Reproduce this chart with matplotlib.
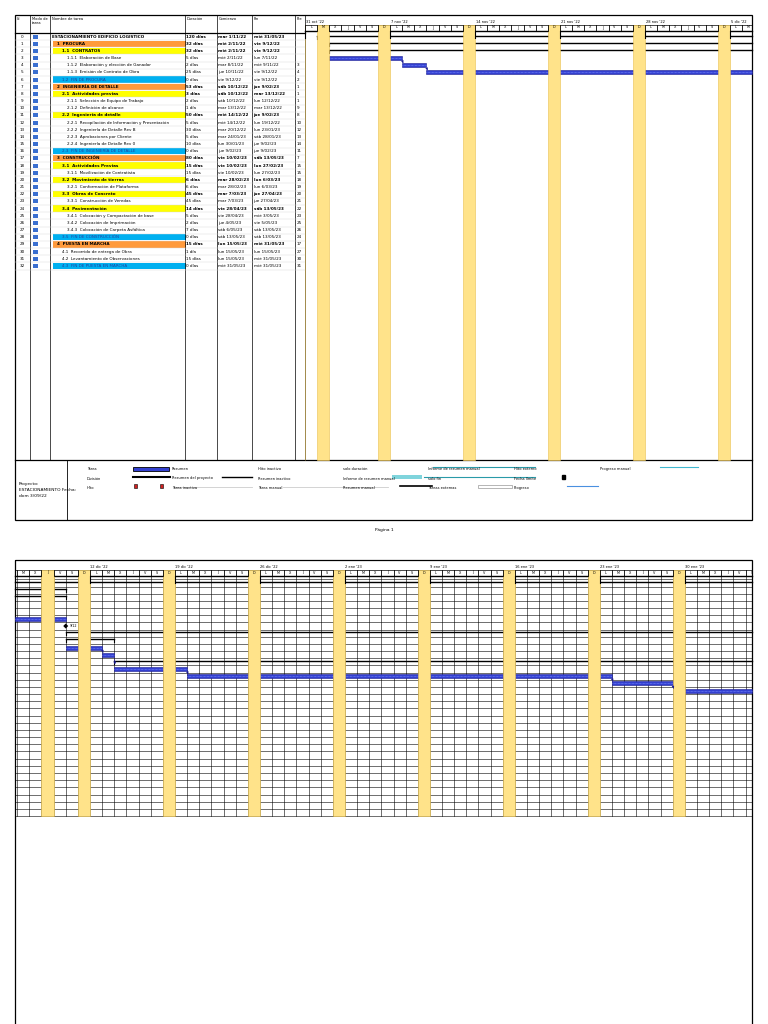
import datetime as dt

import matplotlib
matplotlib.use("Agg")
import matplotlib.pyplot as plt
from matplotlib.patches import Rectangle, Polygon

# ---- data -----------------------------------------------------------------
names = ["ESTACIONAMIENTO EDIFICIO LOGISTICO", "1  PROCURA", "1.1  CONTRATOS",
         "1.1.1  Elaboración de Base", "1.1.2  Elaboración y elección de Ganador",
         "1.1.3  Emisión de Contrato de Obra", "1.2  FIN DE PROCURA",
         "2  INGENIERÍA DE DETALLE", "2.1  Actividades previas",
         "2.1.1  Selección de Equipo de Trabajo", "2.1.2  Definición de alcance",
         "2.2  Ingeniería de detalle", "2.2.1  Recopilación de Información y Presentación",
         "2.2.2  Ingeniería de Detalle Rev B", "2.2.3  Aprobaciones por Cliente",
         "2.2.4  Ingeniería de Detalle Rev 0", "2.3  FIN DE INGENIERÍA DE DETALLE",
         "3  CONSTRUCCIÓN", "3.1  Actividades Previas", "3.1.1  Movilización de Contratista",
         "3.2  Movimiento de tierras", "3.2.1  Conformación de Plataforma",
         "3.3  Obras de Concreto", "3.3.1  Construcción de Veredas", "3.4  Pavimentación",
         "3.4.1  Colocación y Compactación de base", "3.4.2  Colocación de Imprimación",
         "3.4.3  Colocación de Carpeta Asfáltica", "3.5  FIN DE CONSTRUCCIÓN",
         "4  PUESTA EN MARCHA", "4.1  Recorrido de entrega de Obra",
         "4.2  Levantamiento de Observaciones", "4.3  FIN DE PUESTA EN MARCHA"]
kinds = ["proj", "s1", "s2", "t", "t", "t", "m", "s1", "s2", "t", "t", "s2", "t", "t", "t", "t",
         "m", "s1", "s2", "t", "s2", "t", "s2", "t", "s2", "t", "t", "t", "m", "s1", "t", "t", "m"]
durations = ["120 días", "32 días", "32 días", "5 días", "2 días", "25 días", "0 días",
             "53 días", "3 días", "2 días", "1 día", "50 días", "5 días", "30 días", "5 días",
             "10 días", "0 días", "80 días", "15 días", "15 días", "6 días", "6 días",
             "45 días", "45 días", "14 días", "5 días", "2 días", "7 días", "0 días",
             "15 días", "1 día", "15 días", "0 días"]
starts = ["mar 1/11/22", "mié 2/11/22", "mié 2/11/22", "mié 2/11/22", "mar 8/11/22",
          "jue 10/11/22", "vie 9/12/22", "sáb 10/12/22", "sáb 10/12/22", "sáb 10/12/22",
          "mar 13/12/22", "mié 14/12/22", "mié 14/12/22", "mar 20/12/22", "mar 24/01/23",
          "lun 30/01/23", "jue 9/02/23", "vie 10/02/23", "vie 10/02/23", "vie 10/02/23",
          "mar 28/02/23", "mar 28/02/23", "mar 7/03/23", "mar 7/03/23", "vie 28/04/23",
          "vie 28/04/23", "jue 4/05/23", "sáb 6/05/23", "sáb 13/05/23", "lun 15/05/23",
          "lun 15/05/23", "lun 15/05/23", "mié 31/05/23"]
ends = ["mié 31/05/23", "vie 9/12/22", "vie 9/12/22", "lun 7/11/22", "mié 9/11/22",
        "vie 9/12/22", "vie 9/12/22", "jue 9/02/23", "mar 13/12/22", "lun 12/12/22",
        "mar 13/12/22", "jue 9/02/23", "lun 19/12/22", "lun 23/01/23", "sáb 28/01/23",
        "jue 9/02/23", "jue 9/02/23", "sáb 13/05/23", "lun 27/02/23", "lun 27/02/23",
        "lun 6/03/23", "lun 6/03/23", "jue 27/04/23", "jue 27/04/23", "sáb 13/05/23",
        "mié 3/05/23", "vie 5/05/23", "sáb 13/05/23", "sáb 13/05/23", "mié 31/05/23",
        "lun 15/05/23", "mié 31/05/23", "mié 31/05/23"]
preds = ["", "", "", "", "3", "4", "2", "1", "1", "1", "9", "8", "10", "12", "13", "14",
         "11", "7", "15", "15", "18", "19", "20", "21", "22", "23", "25", "26", "24", "17",
         "27", "30", "31"]
holidays = ["1/11/22", "8/12/22"]
weeks_p1 = ["31 oct '22", "7 nov '22", "14 nov '22", "21 nov '22", "28 nov '22", "5 dic '22"]
weeks_p2 = ["12 dic '22", "19 dic '22", "26 dic '22", "2 ene '23", "9 ene '23", "16 ene '23",
            "23 ene '23", "30 ene '23"]
day_letters = ["L", "M", "X", "J", "V", "S", "D"]


def pdate(s):
    d, m, y = s.split()[-1].split("/")
    return dt.date(2000 + int(y), int(m), int(d))


hol = [pdate(h) for h in holidays]

# ---- canvas ---------------------------------------------------------------
fig = plt.figure(figsize=(7.68, 10.24), dpi=100)
ax = fig.add_axes([0, 0, 1, 1])
ax.set_xlim(0, 768)
ax.set_ylim(1024, 0)
ax.axis("off")
FS = 3.0
DW = 12.14  # px per day
BLUE = "#3340d0"
FILL = {"s1": "#ff9a3c", "s2": "#ffff00", "m": "#00b0f0"}


def box(x0, y0, x1, y1, **kw):
    kw.setdefault("fill", False)
    kw.setdefault("lw", 0.6)
    kw.setdefault("ec", "black")
    ax.add_patch(Rectangle((x0, y0), x1 - x0, y1 - y0, **kw))


def gantt(xref, dref, gx0, gx1, top, y_row0, rh, bottom, grid):
    """xref: x of day dref start; draws the timescale and bars between gx0..gx1"""
    d0 = dref + dt.timedelta(days=int((gx0 - xref) // DW))
    nd = int((gx1 - gx0) / DW) + 2
    for i in range(nd):
        d = d0 + dt.timedelta(days=i)
        x = xref + (d - dref).days * DW
        if x + DW < gx0 or x > gx1:
            continue
        xa, xb = max(x, gx0), min(x + DW, gx1)
        if d.weekday() == 6 or d in hol:
            ax.add_patch(Rectangle((xa, top + 10), xb - xa, bottom - top - 10,
                                   fc="#ffe38a", ec="#e8c050", lw=0.4, zorder=4))
        if x + DW / 2 < gx1 and x + DW / 2 > gx0:
            ax.text(x + DW / 2, top + 12.5, day_letters[d.weekday()], fontsize=2.4,
                    ha="center", va="center", zorder=6)
        if gx0 < x < gx1:
            ax.plot([x, x], [top + 10, top + 16], color="black", lw=0.6, zorder=6)
            if grid:
                ax.plot([x, x], [top + 16, bottom], color="black", lw=0.4, zorder=1)
            if d.weekday() == 0:
                ax.plot([x, x], [top + 16, top + 23], color="black", lw=0.8, zorder=6)
    ax.plot([gx0, gx1], [top + 10, top + 10], color="black", lw=0.5)
    ax.plot([gx0, gx1], [top + 16, top + 16], color="black", lw=1.0)
    if grid:
        for r in range(len(names) + 1):
            y = y_row0 + (r - 0.5) * rh
            ax.plot([gx0, gx1], [y, y], color="black", lw=0.4, zorder=1)
    for i, k in enumerate(kinds):
        y = y_row0 + i * rh
        s, e = pdate(starts[i]), pdate(ends[i])
        xs = xref + (s - dref).days * DW
        xe = xref + ((e - dref).days + 1) * DW
        if k == "m":
            xm = xe
            if gx0 < xm < gx1:
                ax.add_patch(Polygon([(xm, y - 2.5), (xm + 2.5, y), (xm, y + 2.5), (xm - 2.5, y)],
                                     fc="black", zorder=7))
                ax.text(xm + 4, y, ends[i].split()[-1][:-3], fontsize=2.4, va="center", zorder=7)
            continue
        a, b = max(xs, gx0), min(xe, gx1)
        if b <= a:
            continue
        if k == "t":
            ax.add_patch(Rectangle((a, y - 2), b - a, 4, fc=BLUE, ec="#1a1a90", lw=0.4, zorder=3))
            ax.plot([a, b], [y, y], color="#8090ff", lw=0.5, ls=(0, (1, 1)), zorder=3)
        else:
            ax.plot([a, b], [y - 1, y - 1], color="black", lw=1.0, zorder=3)
            for xx in (xs, xe):
                if gx0 <= xx <= gx1:
                    ax.plot([xx, xx], [y - 1, y + 2], color="black", lw=0.8, zorder=3)
    for i in range(1, len(names)):
        p = preds[i]
        if not p or kinds[i] in ("s1", "s2"):
            continue
        j = int(p)
        if kinds[j] != "t":
            continue
        xp = xref + ((pdate(ends[j]) - dref).days + 1) * DW
        if gx0 < xp < gx1:
            ax.annotate("", xy=(xp + 1, y_row0 + i * rh - 2), xytext=(xp, y_row0 + j * rh + 2),
                        arrowprops=dict(arrowstyle="-|>", color="#1a1a90", lw=0.5,
                                        mutation_scale=3), zorder=5)


# ---- page 1 ---------------------------------------------------------------
P1T, P1B, LEG = 15, 520, 460
box(15, P1T, 752, P1B, lw=0.9)
cols = [15, 30, 50, 185, 217, 252, 295, 305]
heads = ["Id", "Modo de\ntarea", "Nombre de tarea", "Duración", "Comienzo", "Fin", "Pre"]
for x in cols[1:]:
    ax.plot([x, x], [P1T, LEG], color="black", lw=0.5)
for x, h in zip(cols[:-1], heads):
    ax.text(x + 2, P1T + 2, h, fontsize=2.6, va="top", linespacing=1.1)
ax.plot([15, 305], [33, 33], color="black", lw=0.9)
ax.plot([15, 752], [LEG, LEG], color="black", lw=0.9)

R0, RH = 36.5, 7.17
for i, n in enumerate(names):
    y = R0 + i * RH
    k = kinds[i]
    ax.plot([15, 305], [y + RH / 2, y + RH / 2], color="#d8d8d8", lw=0.3)
    ax.text(22, y, str(i), fontsize=FS, ha="center", va="center")
    ax.add_patch(Rectangle((33, y - 2), 5, 4, fc="#3a6fd0", ec="none"))
    if k in FILL:
        ax.add_patch(Rectangle((53, y - 3.1), 133, 6.2, fc=FILL[k], ec="none"))
    bold = k in ("proj", "s1", "s2")
    indent = {"proj": 0, "s1": 5, "s2": 10, "t": 15, "m": 10}[k]
    if k == "t" and n.count(".") == 1:
        indent = 10
    ax.text(52 + indent, y, n, fontsize=FS, va="center",
            fontweight="bold" if bold else "normal",
            color="#2040a0" if k == "m" else "black")
    for x, v in zip(cols[3:6], (durations[i], starts[i], ends[i])):
        ax.text(x + 1.5, y, v, fontsize=FS, va="center", fontweight="bold" if bold else "normal")
    ax.text(297, y, preds[i], fontsize=FS, va="center")

gantt(390, dt.date(2022, 11, 7), 305, 752, P1T, R0, RH, LEG, False)
for x, w in zip([305 + 1 + 85 * i for i in range(6)], weeks_p1):
    ax.text(x, P1T + 7, w, fontsize=2.6, va="center")

# legend
ax.plot([67, 67], [LEG, P1B], color="black", lw=0.6)
ax.text(19, 490, "Proyecto:\nESTACIONAMIENTO Fecha:\ndom 3/09/22", fontsize=3.2,
        va="center", linespacing=1.8)
leg_rows = [[("Tarea", 87), ("Resumen", 172), ("Hito inactivo", 258), ("solo duración", 343),
             ("Informe de resumen manual", 428), ("Hito externo", 514), ("Progreso manual", 600)],
            [("División", 87), ("Resumen del proyecto", 172), ("Resumen inactivo", 258),
             ("Informe de resumen manual", 343), ("solo fin", 428), ("Fecha límite", 514)],
            [("Hito", 87), ("Tarea inactiva", 172), ("Tarea manual", 258),
             ("Resumen manual", 343), ("Tareas externas", 428), ("Progreso", 514)]]
for r, row in enumerate(leg_rows):
    y = 469 + r * 9.5
    for t, x in row:
        ax.text(x, y, t, fontsize=2.6, va="center")
ax.add_patch(Rectangle((133, 467), 36, 4, fc=BLUE, ec="black", lw=0.6))
ax.plot([133, 170], [476.5, 476.5], color="black", lw=1.5)
ax.add_patch(Rectangle((134, 484), 3, 4, fc="#d02020", ec="black", lw=0.4))
ax.add_patch(Rectangle((160, 484), 3, 4, fc="#d02020", ec="black", lw=0.4))
ax.plot([222, 252], [477, 477], color="black", lw=1.0)
ax.plot([175, 252], [487, 487], color="#cccccc", lw=0.6)
ax.add_patch(Rectangle((392, 474.5), 30, 4, fc="#7fd4dc", ec="none"))
ax.plot([433, 535], [467, 467], color="#2a9aa8", lw=0.8)
ax.plot([424, 535], [476.5, 476.5], color="#2a9aa8", lw=0.8)
ax.plot([283, 388], [487, 487], color="#cccccc", lw=0.6)
ax.plot([400, 432], [486, 486], color="black", lw=1.2)
ax.add_patch(Rectangle((478, 484.5), 34, 3, fill=False, ec="#999999", lw=0.5))
ax.plot([660, 698], [467, 467], color="#40b8d0", lw=0.8)
ax.plot([567, 598], [485.5, 485.5], color="#4a90e0", lw=0.8)
ax.add_patch(Rectangle((562, 474.5), 3, 4, fc="black", ec="black"))
ax.text(384, 530, "Página 1", fontsize=3.2, ha="center", va="center")

# ---- page 2 ---------------------------------------------------------------
P2T = 560
box(15, P2T, 752, 1030, lw=0.9)
R2 = 583
gantt(90, dt.date(2022, 12, 12), 15, 752, P2T, R2, RH, R2 + (len(names) - 0.5) * RH, True)
for x, w in zip([90 + 85 * i for i in range(8)], weeks_p2):
    ax.text(x, P2T + 7, w, fontsize=2.6, va="center")

fig.savefig("out.png", dpi=100)
